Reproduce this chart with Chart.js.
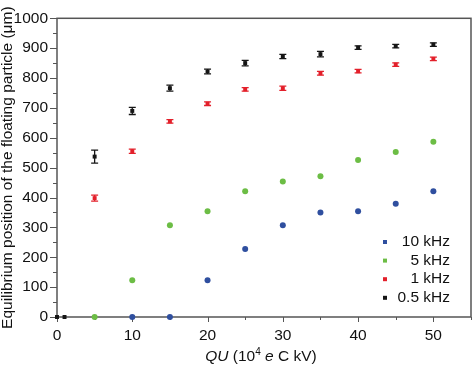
<!DOCTYPE html>
<html>
<head>
<meta charset="utf-8">
<script src="https://cdn.jsdelivr.net/npm/chart.js@4.4.1/dist/chart.umd.min.js"></script>
<style>
  html, body { margin: 0; padding: 0; background: #fff; }
  #wrap { width: 474px; height: 365px; }
</style>
</head>
<body>
<div id="wrap"><canvas id="c" width="474" height="365"></canvas></div>
<script>
// datos
const qu = [0, 1, 5, 10, 15, 20, 25, 30, 35, 40, 45, 50];
const seriesLabels = ['10 kHz', '5 kHz', '1 kHz', '0.5 kHz'];
const pos10k = [null, null, null, 0, 0, 123, 228, 307, 350, 354, 379, 421];
const pos5k = [null, null, 0, 123, 307, 354, 421, 454, 471, 526, 552, 587];
const pos1k = [null, null, 398, 555, 655, 714, 762, 766, 816, 823, 845, 864];
const err1k = [0, 0, 10, 7, 6, 6, 6, 7, 6, 6, 6, 6];
const pos05k = [0, 0, 537, 690, 766, 822, 850, 872, 880, 902, 907, 912];
const err05k = [0, 0, 22, 12, 10, 8, 9, 7, 9, 6, 6, 6];
const xTicks = [0, 10, 20, 30, 40, 50];
const xMinor = [5, 15, 25, 35, 45, 55];
const yTicks = [0, 100, 200, 300, 400, 500, 600, 700, 800, 900, 1000];
const yMinor = [50, 150, 250, 350, 450, 550, 650, 750, 850, 950];

const FONT = 'Liberation Sans, Arial, sans-serif';
const FS = 15.5;
const AXIS = '#555';
const TEXT = '#111';

function pts(ys) {
  return qu.map((x, i) => ({ x, y: ys[i] })).filter(p => p.y !== null);
}

function makeSet(label, ys, color, style, radius, errs) {
  return {
    label,
    data: pts(ys),
    errs: errs ? qu.map((x, i) => ({ x, y: ys[i], e: errs[i] })).filter(p => p.y !== null) : null,
    backgroundColor: color,
    borderColor: color,
    pointStyle: style,
    pointRadius: radius,
    pointHoverRadius: radius,
    borderWidth: 0,
    showLine: false,
    clip: false
  };
}

// barras de error con tapas
const errorBars = {
  id: 'errorBars',
  afterDatasetsDraw(chart) {
    const { ctx, scales: { x, y } } = chart;
    ctx.save();
    chart.data.datasets.forEach(ds => {
      if (!ds.errs) return;
      ctx.strokeStyle = ds.borderColor;
      ctx.lineWidth = 1.3;
      ds.errs.forEach(p => {
        if (!p.e) return;
        const px = x.getPixelForValue(p.x);
        const top = y.getPixelForValue(p.y + p.e);
        const bot = y.getPixelForValue(p.y - p.e);
        ctx.beginPath();
        ctx.moveTo(px, top); ctx.lineTo(px, bot);
        ctx.moveTo(px - 3.5, top); ctx.lineTo(px + 3.5, top);
        ctx.moveTo(px - 3.5, bot); ctx.lineTo(px + 3.5, bot);
        ctx.stroke();
      });
    });
    ctx.restore();
  }
};

// marco, ticks, titulos y leyenda
const frame = {
  id: 'frame',
  beforeDatasetsDraw(chart) {
    const { ctx, chartArea: a, scales: { x, y } } = chart;
    ctx.save();
    ctx.strokeStyle = AXIS;
    ctx.lineWidth = 1.5;
    ctx.strokeRect(a.left, a.top, a.right - a.left, a.bottom - a.top);

    ctx.lineWidth = 1;
    ctx.beginPath();
    xTicks.forEach(v => { const px = Math.round(x.getPixelForValue(v)) + 0.5; ctx.moveTo(px, a.bottom); ctx.lineTo(px, a.bottom + 5); });
    xMinor.forEach(v => { const px = Math.round(x.getPixelForValue(v)) + 0.5; ctx.moveTo(px, a.bottom); ctx.lineTo(px, a.bottom + 3); });
    yTicks.forEach(v => { const py = Math.round(y.getPixelForValue(v)) + 0.5; ctx.moveTo(a.left, py); ctx.lineTo(a.left - 7, py); });
    yMinor.forEach(v => { const py = Math.round(y.getPixelForValue(v)) + 0.5; ctx.moveTo(a.left, py); ctx.lineTo(a.left - 4, py); });
    ctx.stroke();
    ctx.restore();
  },
  afterDraw(chart) {
    const { ctx, chartArea: a } = chart;
    ctx.save();
    // titulo eje y
    ctx.fillStyle = TEXT;
    ctx.font = FS + 'px ' + FONT;
    ctx.textAlign = 'center';
    ctx.textBaseline = 'middle';
    ctx.save();
    ctx.translate(8, (a.top + a.bottom) / 2);
    ctx.rotate(-Math.PI / 2);
    ctx.fillText('Equilibrium position of the floating particle (\u03bcm)', 0, 0);
    ctx.restore();

    // titulo eje x con cursivas y superindice
    const parts = [
      { t: 'QU', f: 'italic ' + FS + 'px ' + FONT, dy: 0 },
      { t: ' (10', f: FS + 'px ' + FONT, dy: 0 },
      { t: '4', f: '10px ' + FONT, dy: -6 },
      { t: ' ', f: FS + 'px ' + FONT, dy: 0 },
      { t: 'e', f: 'italic ' + FS + 'px ' + FONT, dy: 0 },
      { t: ' C kV)', f: FS + 'px ' + FONT, dy: 0 }
    ];
    let w = 0;
    parts.forEach(p => { ctx.font = p.f; p.w = ctx.measureText(p.t).width; w += p.w; });
    let cx = (a.left + a.right) / 2 - 3 - w / 2;
    ctx.textAlign = 'left';
    ctx.textBaseline = 'alphabetic';
    parts.forEach(p => { ctx.font = p.f; ctx.fillText(p.t, cx, 361 + p.dy); cx += p.w; });

    // leyenda
    ctx.font = FS + 'px ' + FONT;
    ctx.textAlign = 'right';
    ctx.textBaseline = 'middle';
    chart.data.datasets.forEach((ds, i) => {
      const ry = a.bottom - 75 + i * 18.6;
      ctx.fillStyle = ds.backgroundColor;
      ctx.fillRect(a.right - 88, ry - 2, 4, 4);
      ctx.fillStyle = TEXT;
      ctx.fillText(ds.label, a.right - 21, ry);
    });
    ctx.restore();
  }
};

new Chart(document.getElementById('c'), {
  type: 'scatter',
  data: {
    datasets: [
      makeSet(seriesLabels[0], pos10k, '#2f4f9f', 'circle', 3, null),
      makeSet(seriesLabels[1], pos5k, '#6cbd45', 'circle', 3, null),
      makeSet(seriesLabels[2], pos1k, '#e3202b', 'rect', 2.8, err1k),
      makeSet(seriesLabels[3], pos05k, '#161616', 'rect', 2.8, err05k)
    ]
  },
  options: {
    responsive: false,
    animation: false,
    layout: { padding: { left: 0, top: 13, right: 2, bottom: 0 } },
    plugins: { legend: { display: false }, tooltip: { enabled: false } },
    scales: {
      x: {
        type: 'linear',
        min: 0,
        max: 55,
        afterBuildTicks: s => { s.ticks = xTicks.map(v => ({ value: v })); },
        afterFit: s => { s.height = 48; },
        grid: { display: false, drawTicks: false },
        border: { display: false },
        ticks: { padding: 9, color: TEXT, font: { family: FONT, size: FS }, callback: v => String(v) }
      },
      y: {
        type: 'linear',
        min: 0,
        max: 1000,
        afterBuildTicks: s => { s.ticks = yTicks.map(v => ({ value: v })); },
        afterFit: s => { s.width = 57; },
        grid: { display: false, drawTicks: false },
        border: { display: false },
        ticks: { padding: 9, color: TEXT, font: { family: FONT, size: FS }, callback: v => String(v) }
      }
    }
  },
  plugins: [errorBars, frame]
});
</script>
</body>
</html>
